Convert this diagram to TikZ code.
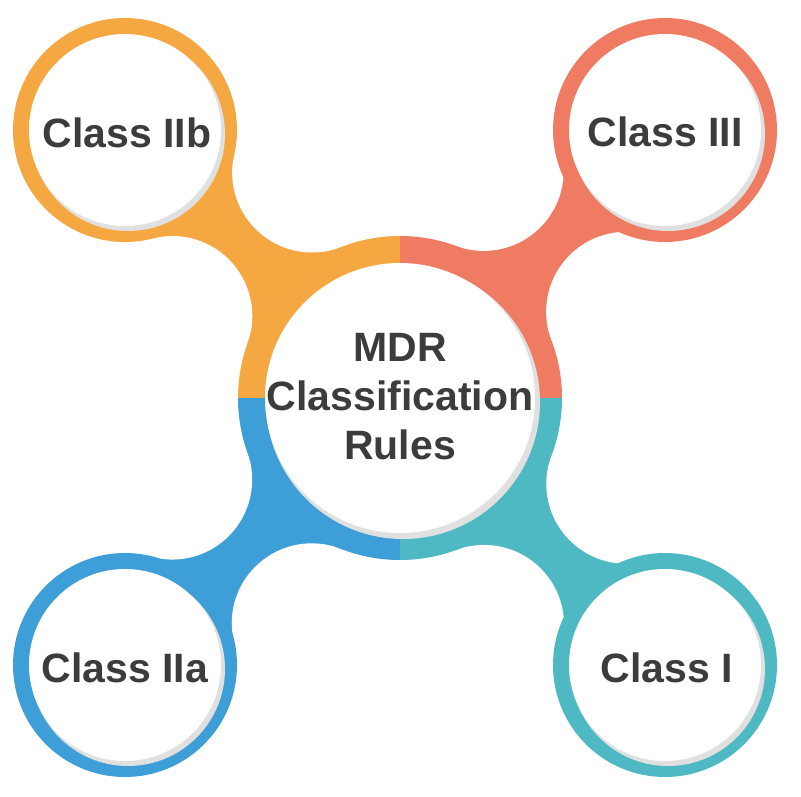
\documentclass[tikz,border=0pt]{standalone}
\usepackage{fontspec}
\setmainfont{Liberation Sans}
\usetikzlibrary{calc}
\definecolor{cor}{HTML}{F5A742}
\definecolor{cre}{HTML}{EF7B63}
\definecolor{cbl}{HTML}{3E9FD8}
\definecolor{ctl}{HTML}{4FB9C3}
\definecolor{txt}{HTML}{3C3C3C}
\begin{document}
\begin{tikzpicture}[x=1pt,y=-1pt,
  lbl/.style={font=\fontsize{41}{49}\selectfont\bfseries,text=txt,align=center}]
\useasboundingbox (0,0) rectangle (801,797);
\fill[white] (0,0) rectangle (801,797);
\coordinate (C) at (400,398);
% necks
\foreach \cx/\cy/\col in {125/130/cor,665/130/cre,125/665/cbl,665/665/ctl}{
  \coordinate (K) at (\cx,\cy);
  \coordinate (A) at ($(C)!147.5pt!(K)$);
  \coordinate (B) at ($(C)!288.5pt!(K)$);
  \coordinate (X) at ($(C)!220.3pt!(K)$);
  \fill[\col] (C) -- ($(A)!67.1pt!90:(K)$) -- ($(B)!58.5pt!90:(K)$) -- (K)
     -- ($(B)!58.5pt!-90:(K)$) -- ($(A)!67.1pt!-90:(K)$) -- cycle;
  \fill[white] ($(X)!100.2pt!90:(K)$) circle (80);
  \fill[white] ($(X)!100.2pt!-90:(K)$) circle (80);
}
% corner circles
\foreach \cx/\cy/\col in {125/130/cor,665/130/cre,125/665/cbl,665/665/ctl}{
  \fill[\col] (\cx,\cy) circle (112);
  \fill[black!12] (\cx+3,\cy+4) circle (97);
  \fill[white] (\cx,\cy) circle (96);
}
% center ring
\fill[cre] (C) -- ++(162,0) arc[start angle=0,end angle=-90,radius=162] -- cycle;
\fill[cor] (C) -- ++(0,-162) arc[start angle=-90,end angle=-180,radius=162] -- cycle;
\fill[cbl] (C) -- ++(-162,0) arc[start angle=180,end angle=90,radius=162] -- cycle;
\fill[ctl] (C) -- ++(0,162) arc[start angle=90,end angle=0,radius=162] -- cycle;
\fill[black!12] (403,402) circle (137);
\fill[white] (C) circle (135);
\node[lbl] (n0) at (400,397) {MDR\\Classification\\Rules};
\node[lbl] (n1) at (127,133) {Class IIb};
\node[lbl] (n2) at (665,132) {Class III};
\node[lbl] (n3) at (125,668) {Class IIa};
\node[lbl] (n4) at (667,668) {Class I};
\end{tikzpicture}
\end{document}
